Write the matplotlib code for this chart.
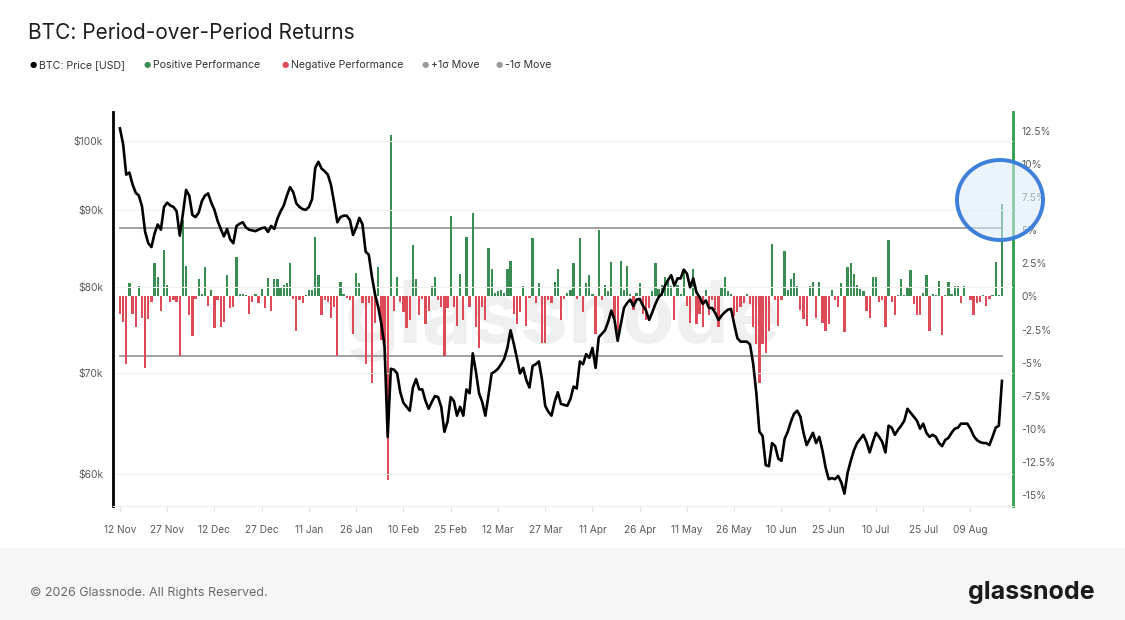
import numpy as np
import pandas as pd
import matplotlib
matplotlib.use("Agg")
import matplotlib.pyplot as plt
from matplotlib.patches import Ellipse, Rectangle
from matplotlib.ticker import FixedLocator, NullLocator, FixedFormatter

plt.rcParams['font.family'] = ['Inter', 'DejaVu Sans']

# ---------------- data ----------------
start_date = "2025-11-12"

price_k = [
    102.0, 99.6, 95.0, 95.3, 93.6, 92.4, 92.0, 90.5, 87.0, 85.5,
    85.0, 86.8, 88.0, 87.3, 90.4, 91.0, 90.6, 90.4, 89.8, 86.5,
    89.5, 92.8, 92.0, 89.3, 89.0, 89.6, 91.2, 92.0, 92.3, 91.0,
    90.0, 88.5, 87.4, 86.4, 87.4, 86.0, 85.5, 87.8, 88.1, 88.3,
    87.6, 87.3, 87.2, 87.1, 87.3, 87.5, 87.6, 87.0, 87.8, 87.4,
    88.8, 89.8, 90.6, 92.0, 93.2, 92.5, 90.9, 90.4, 90.1, 90.0,
    90.4, 91.5, 96.0, 96.9, 95.9, 95.5, 95.0, 93.5, 91.0, 88.3,
    89.0, 89.2, 89.2, 88.6, 86.6, 87.6, 88.9, 88.0, 84.4, 84.0,
    81.2, 79.0, 77.5, 75.5, 73.0, 63.5, 70.5, 70.4, 70.0, 68.0,
    66.9, 66.5, 66.1, 68.5, 69.4, 68.3, 68.3, 67.1, 66.3, 67.0,
    67.6, 67.5, 66.5, 64.0, 65.0, 67.5, 67.1, 65.6, 66.5, 65.6,
    68.3, 67.9, 72.2, 70.2, 67.9, 67.0, 65.6, 67.7, 70.0, 70.2,
    70.5, 71.0, 71.6, 72.8, 74.8, 73.3, 71.7, 70.0, 70.6, 69.3,
    68.5, 70.8, 71.0, 71.3, 69.3, 66.6, 66.0, 65.6, 67.0, 68.0,
    66.8, 66.7, 66.6, 67.3, 68.6, 68.4, 71.3, 71.0, 72.1, 71.7,
    72.8, 70.6, 74.0, 74.4, 74.8, 75.8, 77.1, 76.0, 73.6, 75.5,
    77.4, 78.0, 78.4, 77.6, 78.4, 78.5, 77.7, 77.1, 76.0, 76.9,
    77.9, 78.7, 79.1, 80.1, 80.8, 81.4, 80.1, 81.0, 81.0, 82.1,
    81.6, 79.9, 81.0, 79.3, 78.7, 77.9, 78.3, 77.4, 77.4, 76.8,
    76.0, 76.5, 76.9, 77.2, 77.3, 75.5, 73.9, 73.5, 73.5, 73.5,
    73.2, 71.1, 68.0, 64.0, 63.6, 60.8, 60.7, 62.9, 62.6, 61.4,
    61.2, 63.3, 64.0, 65.0, 65.8, 66.1, 65.5, 63.9, 62.7, 63.3,
    63.9, 62.9, 63.5, 62.2, 60.6, 59.5, 59.6, 59.5, 59.8, 59.2,
    58.2, 60.1, 61.2, 62.2, 62.9, 63.3, 63.7, 63.0, 62.0, 63.0,
    63.9, 63.5, 63.0, 62.0, 64.6, 64.4, 63.7, 64.2, 64.6, 65.1,
    66.3, 65.9, 65.5, 65.1, 64.3, 64.8, 63.9, 63.5, 63.7, 63.5,
    62.9, 62.6, 63.2, 63.4, 63.9, 64.3, 64.4, 64.8, 64.8, 64.8,
    64.3, 63.6, 63.2, 63.0, 62.9, 62.9, 62.7, 63.5, 64.4, 64.6,
    69.2,
]

returns_pct = [
    -1.3, -1.9, -5.1, 1.0, -1.3, -2.3, 0.8, -1.6, -5.4, -1.7,
    -0.4, 2.5, 1.5, -1.1, 3.5, 0.9, -0.4, -0.3, -0.4, -4.5,
    5.8, 2.3, -1.4, -3.0, -0.2, 1.3, 0.2, 2.2, -0.7, 0.5,
    -2.4, -0.3, -2.3, -1.9, 1.6, -0.9, -0.8, 3.0, 0.2, 0.2,
    0.1, -1.3, -0.4, 0.2, -0.5, 0.6, -0.9, 1.4, -1.1, 1.3,
    1.3, 0.7, 0.9, 1.0, 2.5, -0.2, -2.6, -0.3, -0.5, 0.1,
    0.5, 0.5, 4.5, 1.6, -1.4, -0.3, -0.4, -1.6, -0.8, -4.5,
    1.1, 0.2, -0.1, -0.3, -2.8, 1.8, 1.0, -0.5, -5.1, -0.5,
    -6.5, -2.0, 2.2, -3.3, -3.5, -13.9, 12.2, -1.1, 1.5, -0.4,
    -1.2, -2.4, -1.8, 3.9, 1.3, -1.4, -0.2, -2.1, -1.1, 0.8,
    1.5, -0.3, -0.8, -4.5, -0.9, 6.1, -0.8, -2.2, 1.7, -1.8,
    4.5, -0.8, 6.3, -2.3, -3.9, -0.8, -1.8, 3.7, 2.1, 0.3,
    0.4, 0.5, 0.3, 2.1, 2.7, -1.3, -2.1, -1.2, 0.8, -2.2,
    -0.1, 4.4, -0.5, 1.0, -3.5, -3.5, -0.3, -0.5, 1.1, 2.1,
    -1.8, -0.2, 0.3, 0.5, 2.5, -0.2, 4.4, -1.2, 1.0, 1.6,
    0.2, -2.8, 5.0, -0.3, 0.9, 0.4, 2.6, -1.6, -2.6, 2.7,
    0.5, 2.3, 0.2, -1.0, 0.3, 1.0, -1.3, -1.8, -0.9, 0.4,
    2.5, 0.6, 0.9, 1.5, 1.1, 0.8, -1.8, 0.9, 0.2, 2.0,
    -0.7, -2.0, 2.1, -2.1, -1.3, -2.3, 0.5, -1.4, -0.3, -1.0,
    -2.3, 0.7, 1.5, 0.4, 0.2, -1.5, -1.2, -0.8, -0.5, 0.2,
    -0.6, -2.3, -3.6, -6.5, -3.6, -4.3, -2.6, 4.0, -0.3, -2.2,
    -0.3, 3.4, 0.5, 1.3, 1.8, 0.8, -1.0, -1.7, -2.2, 0.8,
    1.1, -1.6, 1.1, -2.0, -2.6, -2.1, 0.5, -0.3, -0.8, 1.0,
    -2.7, 2.2, 2.5, 1.7, 0.9, 0.6, 0.4, -1.1, -1.6, 1.5,
    1.5, -0.4, -0.3, -2.3, 4.3, -0.4, -1.4, 0.1, 1.3, 0.1,
    0.7, 2.0, -0.6, -1.4, -1.4, 0.3, 1.6, -2.6, 0.2, 0.1,
    1.2, -2.9, 0.1, 1.1, 0.2, 0.8, 0.8, -0.5, 0.8, 0.05,
    -0.3, -1.4, -0.5, -0.4, 0.1, -0.7, -0.2, 0.1, 2.6, 0.1,
    7.0,
]

sigma_up_pct = 5.15
sigma_down_pct = -4.5

price_ticks = [60000, 70000, 80000, 90000, 100000]
price_tick_labels = ["$60k", "$70k", "$80k", "$90k", "$100k"]
return_ticks = [-15, -12.5, -10, -7.5, -5, -2.5, 0, 2.5, 5, 7.5, 10, 12.5]
return_tick_labels = ["-15%", "-12.5%", "-10%", "-7.5%", "-5%", "-2.5%", "0%",
                      "2.5%", "5%", "7.5%", "10%", "12.5%"]
x_tick_labels = ["12 Nov", "27 Nov", "12 Dec", "27 Dec", "11 Jan", "26 Jan",
                 "10 Feb", "25 Feb", "12 Mar", "27 Mar", "11 Apr", "26 Apr",
                 "11 May", "26 May", "10 Jun", "25 Jun", "10 Jul", "25 Jul",
                 "09 Aug"]

legend_labels = ["BTC: Price [USD]", "Positive Performance", "Negative Performance",
                 "+1σ Move", "-1σ Move"]

# ---------------- styling ----------------
GREEN = "#3a8d52"
RED = "#dc4b57"
GRAY_LINE = "#9a9a9a"
AXIS_GREEN = "#2f9e4a"
TXT = "#5a5a5a"

dates = pd.date_range(start_date, periods=len(price_k), freq="D")
prices = np.array(price_k) * 1000.0
rets = np.array(returns_pct)
tick_dates = pd.date_range(start_date, periods=len(x_tick_labels), freq="15D")

fig = plt.figure(figsize=(11.25, 6.2), dpi=100)
fig.patch.set_facecolor("white")

# footer band
fig.patches.append(Rectangle((0, 0), 1, 72 / 620, transform=fig.transFigure,
                             facecolor="#f6f6f6", edgecolor="none", zorder=0))

ax = fig.add_axes([113 / 1125, 1 - 506 / 620, 900 / 1125, 394 / 620])
ax2 = ax.twinx()

# returns (right axis)
colors = [GREEN if r >= 0 else RED for r in rets]
ax2.bar(dates, rets, width=0.72, color=colors, zorder=3, linewidth=0)
ax2.plot([dates[0], dates[-1]], [sigma_up_pct, sigma_up_pct], color=GRAY_LINE, lw=1.3, zorder=2)
ax2.plot([dates[0], dates[-1]], [sigma_down_pct, sigma_down_pct], color=GRAY_LINE, lw=1.3, zorder=2)
ax2.set_ylim(-15.83, 13.94)
ax2.yaxis.set_major_locator(FixedLocator(return_ticks))
ax2.yaxis.set_major_formatter(FixedFormatter(return_tick_labels))
ax2.tick_params(axis="y", length=0, labelsize=7.4, labelcolor=TXT, pad=6)

# watermark
ax2.text(0.50, 0.47, "glassnode", transform=ax2.transAxes, fontsize=62,
         fontweight="bold", color="#efefef", ha="center", va="center", zorder=0.5)

# price (left axis, log)
ax.set_yscale("log")
ax.set_ylim(57100, 104600)
for t in price_ticks:
    ax.axhline(t, color="#f0f0f0", lw=0.8, zorder=0)
ax.plot(dates, prices, color="black", lw=1.9, zorder=5, solid_joinstyle="round")
ax.yaxis.set_major_locator(FixedLocator(price_ticks))
ax.yaxis.set_major_formatter(FixedFormatter(price_tick_labels))
ax.yaxis.set_minor_locator(NullLocator())
ax.tick_params(axis="y", which="both", length=0, labelsize=7.4, labelcolor=TXT, pad=7)

ax.set_zorder(ax2.get_zorder() + 1)
ax.patch.set_visible(False)

ax.set_xlim(dates[0] - pd.Timedelta(days=2.2), dates[0] + pd.Timedelta(days=283.5))
ax.xaxis.set_major_locator(FixedLocator(matplotlib.dates.date2num(tick_dates)))
ax.xaxis.set_major_formatter(FixedFormatter(x_tick_labels))
ax.xaxis.set_minor_locator(NullLocator())
ax.tick_params(axis="x", length=4, color="#e2e2e2", labelsize=7.3, labelcolor=TXT, pad=10)

for s in ["top", "right"]:
    ax.spines[s].set_visible(False)
ax.spines["left"].set_color("black")
ax.spines["left"].set_linewidth(2.0)
ax.spines["bottom"].set_color("#ececec")
ax.spines["bottom"].set_linewidth(0.8)
for s in ["top", "left", "bottom"]:
    ax2.spines[s].set_visible(False)
ax2.spines["right"].set_color(AXIS_GREEN)
ax2.spines["right"].set_linewidth(2.0)

# title
fig.text(28 / 1125, 1 - 33 / 620, "BTC: Period-over-Period Returns", fontsize=15,
         color="#1e1e1e", ha="left", va="center")

# legend
leg_colors = ["black", GREEN, RED, "#9a9a9a", "#9a9a9a"]
leg_x = [33, 147, 285, 425, 499]
ly = 1 - 65 / 620
for c, xpx, lab in zip(leg_colors, leg_x, legend_labels):
    fig.text(xpx / 1125, ly, "●", color=c, fontsize=6, ha="center", va="center",
             family=["DejaVu Sans"])
    fig.text((xpx + 6) / 1125, ly, lab, color="#333333", fontsize=7.6, ha="left", va="center")

# footer text
fig.text(30 / 1125, 1 - 593 / 620, "© 2026 Glassnode. All Rights Reserved.", fontsize=9,
         color="#6a6a6a", ha="left", va="center")
fig.text(1095 / 1125, 1 - 592 / 620, "glassnode", fontsize=18, fontweight="bold",
         color="#1a1a1a", ha="right", va="center")

# highlight circle
fig.add_artist(Ellipse((1000 / 1125, 1 - 200 / 620), width=86 / 1125, height=80 / 620,
                       transform=fig.transFigure, facecolor=(0.86, 0.92, 0.99, 0.55),
                       edgecolor="#3d7fd9", lw=2.8, zorder=10))

fig.savefig("out.png", dpi=100)
